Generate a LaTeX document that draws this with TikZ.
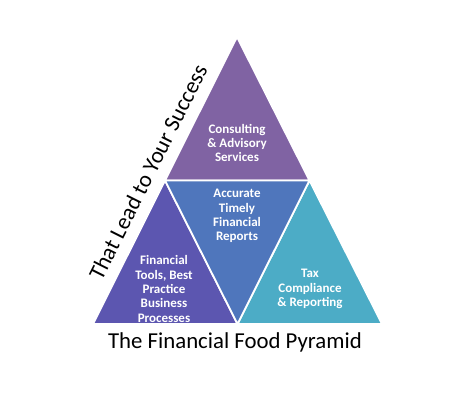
\documentclass[tikz,border=0pt]{standalone}
\usepackage{fontspec}
\setmainfont{Carlito}
\usetikzlibrary{positioning,calc}
\definecolor{toppurple}{RGB}{128,99,163}
\definecolor{midblue}{RGB}{79,118,188}
\definecolor{leftindigo}{RGB}{92,86,176}
\definecolor{rightaqua}{RGB}{76,172,198}
\tikzset{
  piece/.style = {draw=white, line width=1.8pt, line join=miter},
  piecetext/.style = {text=white, font=\bfseries\fontsize{13}{14.3}\selectfont, align=center, inner sep=0pt},
  caption/.style = {font=\fontsize{22.8}{27}\selectfont, inner sep=0pt},
}

\begin{document}
\begin{tikzpicture}[x=1pt, y=1pt]
\useasboundingbox (0,0) rectangle (474,412);

% corners of the pyramid
\coordinate (apex) at (237,375);
\coordinate (bl) at (93,88);
\coordinate (br) at (382,88);
\coordinate (bm) at ($(bl)!0.5!(br)$);
\coordinate (ml) at ($(bl)!0.5!(apex)$);
\coordinate (mr) at ($(br)!0.5!(apex)$);

% the four triangles
\path[piece, fill=toppurple] (apex) -- (ml) -- (mr) -- cycle;
\path[piece, fill=leftindigo] (ml) -- (bl) -- (bm) -- cycle;
\path[piece, fill=rightaqua] (mr) -- (bm) -- (br) -- cycle;
\path[piece, fill=midblue] (ml) -- (mr) -- (bm) -- cycle;

% texts in the triangles
\node[piecetext] (consult) at (237,269) {Consulting\\\& Advisory\\Services};
\node[piecetext] (reports) at (237,196) {Accurate\\Timely\\Financial\\Reports};
\node[piecetext] (tools) at (164,123) {Financial\\Tools, Best\\Practice\\Business\\Processes};
\node[piecetext] (tax) at (310,123) {Tax\\Compliance\\\& Reporting};

% captions
\node[caption] (title) at (235,70) {The Financial Food Pyramid};
\node[caption, rotate=63.4] (success) at ($(ml)!19pt!90:(apex)$) {That Lead to Your Success};

\end{tikzpicture}
\end{document}
